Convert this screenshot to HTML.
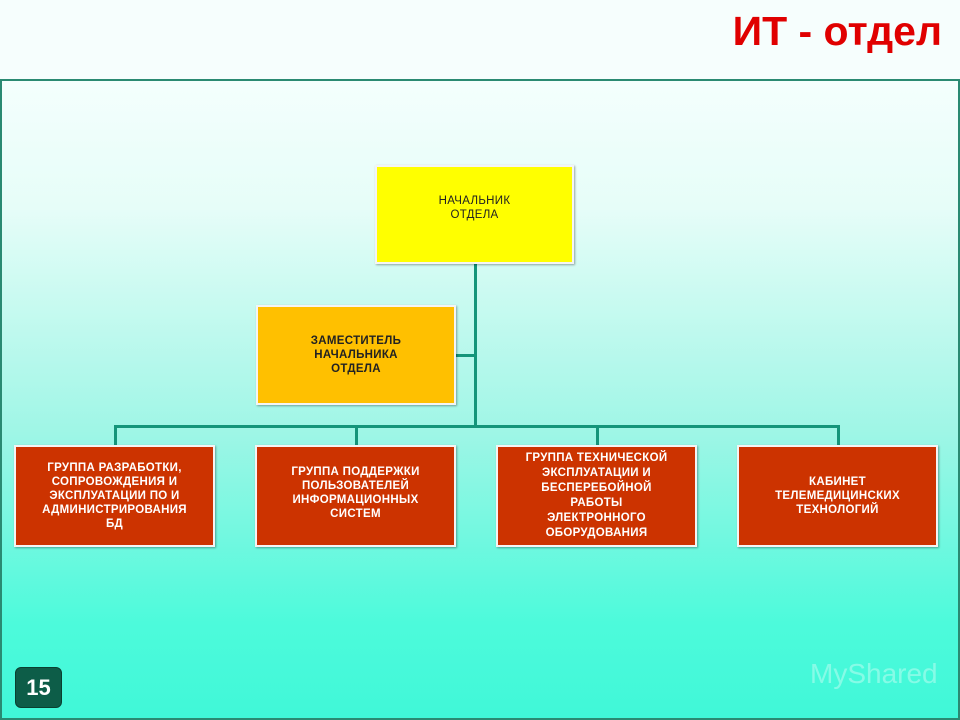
<!DOCTYPE html>
<html><head><meta charset="utf-8"><style>
body{margin:0;width:960px;height:720px;overflow:hidden;background:#f6fefd;font-family:"Liberation Sans",sans-serif;position:relative}
.title{position:absolute;right:18px;top:8px;color:#e00000;font-weight:bold;font-size:41px;letter-spacing:0}
.frame{position:absolute;left:0;top:79px;width:956px;height:637px;border:2px solid #2a8a72;background:linear-gradient(#f4fffd 0%,#e6fdf8 20%,#9ff6e6 55%,#4dfadb 85%,#40f8d8 100%)}
.b{position:absolute;box-sizing:border-box;border:2px solid #f4f4f4;box-shadow:1px 1px 2px rgba(0,0,0,.35);display:flex;align-items:center;justify-content:center;text-align:center;font-weight:bold;font-size:11.5px;line-height:14px;text-transform:uppercase;letter-spacing:0.3px}
.r{background:#cc3300;color:#fff}
.l{position:absolute;background:#14957a}
.num{position:absolute;left:15px;top:667px;width:45px;height:39px;background:#0d5d48;border-radius:6px;color:#fff;font-weight:bold;font-size:22px;display:flex;align-items:center;justify-content:center;border:1px solid #0a3f30}
.ms{position:absolute;left:810px;top:658px;font-size:28px;color:rgba(255,255,255,.35)}
</style></head><body>
<div class="title">ИТ - отдел</div>
<div class="frame"></div>
<div class="l" style="left:474px;top:263px;width:3px;height:164px"></div>
<div class="l" style="left:455px;top:354px;width:21px;height:3px"></div>
<div class="l" style="left:114px;top:425px;width:726px;height:3px"></div>
<div class="l" style="left:114px;top:425px;width:3px;height:22px"></div>
<div class="l" style="left:355px;top:425px;width:3px;height:22px"></div>
<div class="l" style="left:596px;top:425px;width:3px;height:22px"></div>
<div class="l" style="left:837px;top:425px;width:3px;height:22px"></div>
<div class="b" style="left:375px;top:165px;width:199px;height:99px;background:#ffff00;color:#222;font-weight:normal;align-items:flex-start;padding-top:27px">НАЧАЛЬНИК<br>ОТДЕЛА</div>
<div class="b" style="left:256px;top:305px;width:200px;height:100px;background:#ffc000;color:#222">ЗАМЕСТИТЕЛЬ<br>НАЧАЛЬНИКА<br>ОТДЕЛА</div>
<div class="b r" style="left:14px;top:445px;width:201px;height:102px">ГРУППА РАЗРАБОТКИ,<br>СОПРОВОЖДЕНИЯ И<br>ЭКСПЛУАТАЦИИ ПО И<br>АДМИНИСТРИРОВАНИЯ<br>БД</div>
<div class="b r" style="left:255px;top:445px;width:201px;height:102px;align-items:flex-start;padding-top:18px">ГРУППА ПОДДЕРЖКИ<br>ПОЛЬЗОВАТЕЛЕЙ<br>ИНФОРМАЦИОННЫХ<br>СИСТЕМ</div>
<div class="b r" style="left:496px;top:445px;width:201px;height:102px;line-height:15px">ГРУППА ТЕХНИЧЕСКОЙ<br>ЭКСПЛУАТАЦИИ И<br>БЕСПЕРЕБОЙНОЙ<br>РАБОТЫ<br>ЭЛЕКТРОННОГО<br>ОБОРУДОВАНИЯ</div>
<div class="b r" style="left:737px;top:445px;width:201px;height:102px">КАБИНЕТ<br>ТЕЛЕМЕДИЦИНСКИХ<br>ТЕХНОЛОГИЙ</div>
<div class="num">15</div>
<div class="ms">MyShared</div>
</body></html>
